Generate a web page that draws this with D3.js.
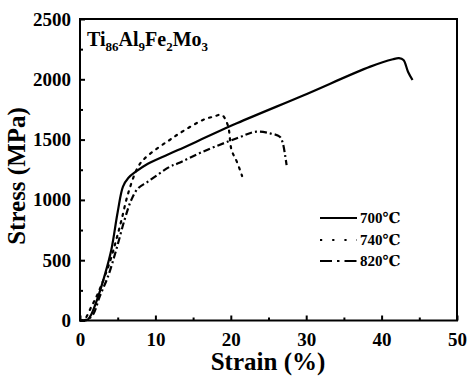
<!DOCTYPE html>
<html><head><meta charset="utf-8">
<script src="https://cdn.jsdelivr.net/npm/d3@7"></script>
<style>body{margin:0;background:#fff}svg{display:block}svg text{font-family:'Liberation Serif','DejaVu Serif',serif !important;font-weight:bold;fill:#000}</style>
</head><body><svg id="c" width="474" height="382"></svg>
<script>
const xTicks=[0,10,20,30,40,50];
const yTicks=[0,500,1000,1500,2000,2500];
const series=["700℃","740℃","820℃"];
const s700=[[0,0],[0.5,0],[1.0,5],[1.5,50],[2.4,197],[3.3,380],[4.15,585],[5.0,900],[5.7,1110],[6.4,1182],[7.4,1234],[9,1300],[13,1413],[20.8,1635],[29.6,1866],[38.5,2105],[41.5,2166],[42.3,2175],[42.9,2160],[43.5,2063],[44.1,1994]];
const s740=[[0,0],[0.6,10],[1.5,114],[2.4,228],[3.9,474],[4.8,667],[5.5,833],[6.4,1057],[7.7,1275],[8.6,1345],[10.3,1430],[11.9,1497],[13.2,1552],[16.3,1663],[17.7,1690],[18.8,1704],[19.6,1621],[20.1,1414],[20.8,1317],[21.5,1198]];
const s820=[[0,0],[0.8,5],[1.7,46],[2.6,197],[3.7,363],[4.8,585],[5.9,833],[6.8,999],[7.7,1096],[9.0,1151],[11.9,1275],[13.0,1303],[16.3,1400],[20.8,1511],[23.4,1566],[25.2,1552],[26.5,1524],[26.9,1469],[27.2,1370],[27.4,1289]];

const FONT="'Liberation Serif','DejaVu Serif',serif";
const svg=d3.select("#c");
const x=d3.scaleLinear().domain([0,50]).range([80,457]);
const y=d3.scaleLinear().domain([0,2500]).range([320.5,19]);
const styles=["none","2.2,5.5","7,3,2,3"];
const data=[s700,s740,s820];

svg.append("rect").attr("x",x(0)).attr("y",y(2500)).attr("width",x(50)-x(0)).attr("height",y(0)-y(2500))
  .attr("fill","none").attr("stroke","#000").attr("stroke-width",2);

const xa=svg.append("g").attr("transform",`translate(0,${y(0)})`)
  .call(d3.axisBottom(x).tickValues(xTicks).tickSize(-5).tickPadding(12).tickFormat(d3.format("d")));
const xm=svg.append("g").attr("transform",`translate(0,${y(0)})`)
  .call(d3.axisBottom(x).tickValues(d3.range(5,50,10)).tickSize(-3).tickFormat(""));
const ya=svg.append("g").attr("transform",`translate(${x(0)},0)`)
  .call(d3.axisLeft(y).tickValues(yTicks).tickSize(-5).tickPadding(9).tickFormat(d3.format("d")));
const ym=svg.append("g").attr("transform",`translate(${x(0)},0)`)
  .call(d3.axisLeft(y).tickValues(d3.range(250,2500,500)).tickSize(-3).tickFormat(""));
[xa,xm,ya,ym].forEach(g=>{g.attr("font-family",FONT);g.select(".domain").remove();g.selectAll("line").attr("stroke","#000").attr("stroke-width",2);});
[xa,ya].forEach(g=>g.selectAll("text").attr("font-size",19).attr("font-family",FONT).attr("font-weight","bold"));

const line=d3.line().x(d=>x(d[0])).y(d=>y(d[1])).curve(d3.curveCatmullRom.alpha(0.5));
data.forEach((s,i)=>{
  svg.append("path").datum(s).attr("d",line).attr("fill","none").attr("stroke","#000")
    .attr("stroke-width",2.2).attr("stroke-dasharray",styles[i]).attr("stroke-linecap",i==1?"round":"butt");
});

const ly=[218,240,261];
series.forEach((n,i)=>{
  svg.append("line").attr("x1",320).attr("x2",357).attr("y1",ly[i]).attr("y2",ly[i]).attr("stroke","#000")
    .attr("stroke-width",2.2).attr("stroke-dasharray",i==0?"none":(i==1?"2.2,10":"12,5,2.5,5"));
  svg.append("text").attr("x",360).attr("y",ly[i]+5).attr("font-family",FONT).attr("font-size",15).text(n);
});

const t=svg.append("text").attr("x",87).attr("y",46).attr("font-family",FONT).attr("font-size",20);
[["Ti",0],["86",1],["Al",0],["9",1],["Fe",0],["2",1],["Mo",0],["3",1]].forEach(([s,sub],k,arr)=>{
  const prevSub=k>0&&arr[k-1][1];
  t.append("tspan").attr("font-size",sub?13:20).attr("dy",sub?5:(prevSub?-5:null)).text(s);
});

svg.append("text").attr("x",268).attr("y",370).attr("text-anchor","middle").attr("font-family",FONT).attr("font-size",25).text("Strain (%)");
svg.append("text").attr("transform",`translate(25,176) rotate(-90)`).attr("text-anchor","middle").attr("font-family",FONT).attr("font-size",25).text("Stress (MPa)");
</script></body></html>
